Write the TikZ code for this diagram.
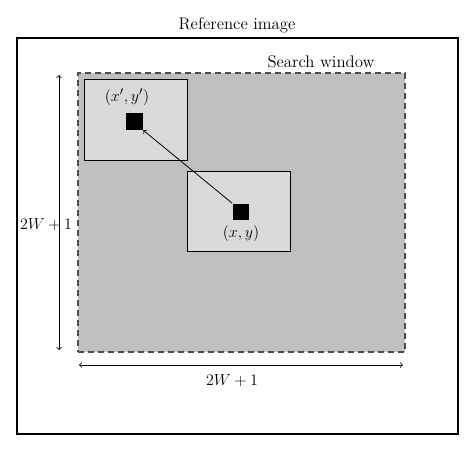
\documentclass[tikz,border=0pt]{standalone}
\usepackage{amsmath}
\usepackage{tikz}
\usetikzlibrary{positioning}

\tikzset{
  window/.style={draw=black!70, dash pattern=on 4.5pt off 3pt, thick, fill=black!25, inner sep=0pt},
  patch/.style={draw, semithick, fill=black!15, inner sep=0pt},
  pixel/.style={fill=black, inner sep=0pt},
  dim/.style={semithick, <->},
}

\begin{document}
\begin{tikzpicture}[x=0.75pt,y=-0.75pt,font=\fontsize{12.6}{15}\selectfont]
    \useasboundingbox (0,0) rectangle (474,451);
    % reference image and search window
    \node[draw,thick,minimum width=330.75pt,minimum height=297pt,inner sep=0pt] (ref) at (237.5,236) {};
    \node (reftitle) at (237,25) {Reference image};
    \node[window,minimum width=245.25pt,minimum height=209.25pt] (sw) at (241.5,212.5) {};
    \node (swtitle) at (321,62) {Search window};
    % the two patches
    \node[patch,minimum width=77.25pt,minimum height=60.75pt] (best) at (135.5,119.5) {};
    \node[patch,minimum width=77.25pt,minimum height=60pt] (cur) at (238.5,211) {};
    \node[pixel,minimum size=12.75pt] (p1) at (134.5,121.5) {};
    \node[pixel,minimum size=12pt] (p0) at (240.5,211.5) {};
    \node (l1) at (127,97) {$(x', y')$};
    \node (l0) at (241,233) {$(x, y)$};
    \draw[semithick,->] (p0.north west) -- (p1.south east);
    % dimensions
    \coordinate (vt) at (59,75);
    \coordinate (vb) at (59,350);
    \coordinate (hl) at (79,365);
    \coordinate (hr) at (403,365);
    \draw[dim] (vt) -- (vb);
    \draw[dim] (hl) -- (hr);
    \node (wv) at (46,225) {$2W + 1$};
    \node (wh) at (232,381) {$2W + 1$};
  \end{tikzpicture}
\end{document}
